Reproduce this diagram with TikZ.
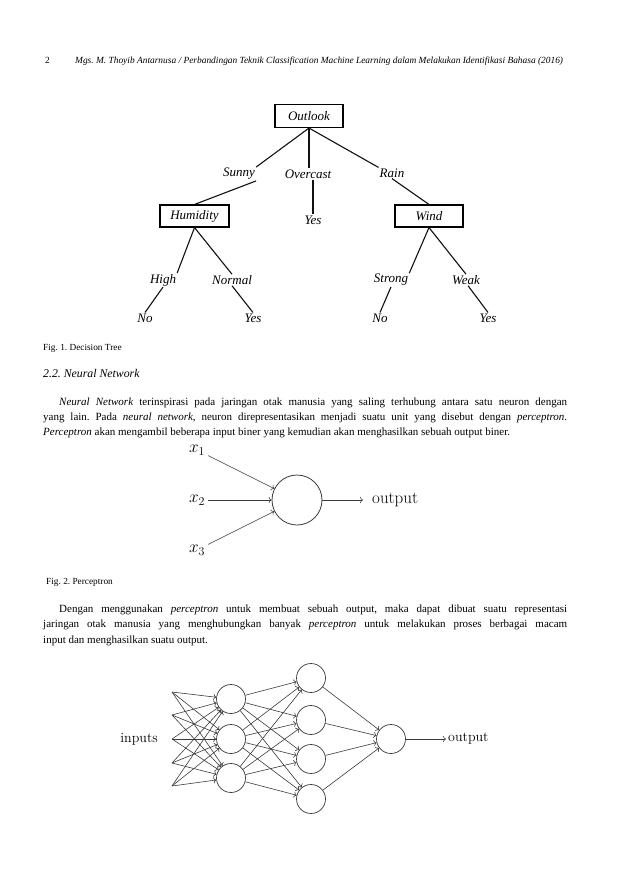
\documentclass[tikz,border=0pt]{standalone}
\usepackage{fontspec}
\usepackage{tikz}
\usetikzlibrary{arrows.meta, positioning}
\newfontfamily\tnr{Liberation Serif}
\definecolor{pageink}{HTML}{111111}
\definecolor{netgray}{HTML}{3C3C3C}

\begin{document}
\frenchspacing
\begin{tikzpicture}[
    x=1pt, y=-1pt,
    runhead/.style={anchor=base west,inner sep=0,font=\tnr\fontsize{9.4}{11}\selectfont},
    figcap/.style={anchor=base west,inner sep=0,font=\tnr\fontsize{9.3}{11}\selectfont},
    sechead/.style={anchor=base west,inner sep=0,font=\tnr\itshape\fontsize{11.8}{13}\selectfont},
    bodyline/.style={anchor=base west,inner sep=0,font=\tnr\fontsize{11}{13}\selectfont},
    treebox/.style={draw,line width=1.1pt,minimum width=68pt,minimum height=23pt,inner sep=0,font=\tnr\itshape\fontsize{13}{15}\selectfont},
    treelabel/.style={inner sep=1pt,font=\tnr\itshape\fontsize{13}{15}\selectfont},
    branch/.style={line width=1.1pt,pageink},
    cmlabel/.style={inner sep=3pt,font=\fontsize{17}{20}\selectfont},
    nnlabel/.style={inner sep=2pt,font=\fontsize{14}{16}\selectfont},
    neuron/.style={circle,draw=netgray,line width=0.8pt,minimum size=50pt,inner sep=0},
    unit/.style={circle,draw=netgray,line width=0.7pt,minimum size=29pt,inner sep=0},
    syn/.style={->,line width=0.6pt,netgray},
  ]
    \fill[white] (0,0) rectangle (638,873);
    \useasboundingbox (0,0) rectangle (638,873);

    % running head
    \node[runhead] (pageno) at (45,63) {2};
    \node[runhead] (runtitle) at (75,63) {\itshape Mgs. M. Thoyib Antarnusa / Perbandingan Teknik Classification Machine Learning dalam Melakukan Identifikasi Bahasa (2016)};

    % Fig. 1: decision tree
    \node[treebox] (outlook) at (309,116) {Outlook};
    \node[treelabel] (sunny) at (239,174) {Sunny};
    \node[treelabel] (overcast) at (308,174) {Overcast};
    \node[treelabel] (rain) at (392,173) {Rain};
    \node[treebox, minimum width=69pt, minimum height=22pt] (humidity) at (194.5,216) {Humidity};
    \node[treelabel] (yesov) at (313,220) {Yes};
    \node[treebox, minimum height=22pt] (wind) at (429,216) {Wind};
    \node[treelabel] (high) at (163,280) {High};
    \node[treelabel] (normal) at (232,280) {Normal};
    \node[treelabel] (strong) at (391,280) {Strong};
    \node[treelabel] (weak) at (466,280) {Weak};
    \node[treelabel] (nohigh) at (145,318) {No};
    \node[treelabel] (yesnormal) at (253,318) {Yes};
    \node[treelabel] (nostrong) at (380,318) {No};
    \node[treelabel] (yesweak) at (488,318) {Yes};

    \draw[branch] (outlook.south) -- (sunny.north east);
    \draw[branch] (outlook.south) -- (outlook.south |- overcast.north);
    \draw[branch] (outlook.south) -- (rain.north west);
    \draw[branch] (sunny.south east) -- (humidity.north);
    \draw[branch] (yesov.north |- overcast.south) -- (yesov.north);
    \draw[branch] (rain.south) -- (wind.north);
    \draw[branch] (humidity.south) -- (high.north east);
    \draw[branch] (humidity.south) -- (normal.north);
    \draw[branch] (wind.south) -- (strong.north east);
    \draw[branch] (wind.south) -- (weak.north);
    \draw[branch] (high.south) -- (nohigh.north);
    \draw[branch] (normal.south) -- (yesnormal.north);
    \draw[branch] (strong.south) -- (nostrong.north);
    \draw[branch] (weak.-70) -- (yesweak.north);

    \node[figcap] (cap1) at (43,350) {Fig. 1. Decision Tree};
    \node[sechead] (sec22) at (43,377) {2.2. Neural Network};

    \node[bodyline] (p1a) at (59,405) {\makebox[508pt][s]{\textit{Neural Network} terinspirasi pada jaringan otak manusia yang saling terhubung antara satu neuron dengan}};
    \node[bodyline] (p1b) at (43,420) {\makebox[524pt][s]{yang lain. Pada \textit{neural network}, neuron direpresentasikan menjadi suatu unit yang disebut dengan \textit{perceptron}.}};
    \node[bodyline] (p1c) at (43,435) {\textit{Perceptron} akan mengambil beberapa input biner yang kemudian akan menghasilkan sebuah output biner.};

    % Fig. 2: perceptron
    \node[neuron] (perc) at (297,500) {};
    \node[cmlabel] (x1) at (197,450) {$x_1$};
    \node[cmlabel] (x2) at (197,500) {$x_2$};
    \node[cmlabel] (x3) at (197,550) {$x_3$};
    \node[cmlabel, anchor=west, inner sep=1pt] (pout) at (371,500) {output};
    \draw[syn] (x1) -- (perc);
    \draw[syn] (x2) -- (perc);
    \draw[syn] (x3) -- (perc);
    \draw[syn, shorten >=8pt] (perc) -- (pout);

    \node[figcap] (cap2) at (46,584) {Fig. 2. Perceptron};

    \node[bodyline] (p2a) at (59,612) {\makebox[508pt][s]{Dengan menggunakan \textit{perceptron} untuk membuat sebuah output, maka dapat dibuat suatu representasi}};
    \node[bodyline] (p2b) at (43,627.5) {\makebox[524pt][s]{jaringan otak manusia yang menghubungkan banyak \textit{perceptron} untuk melakukan proses berbagai macam}};
    \node[bodyline] (p2c) at (43,643) {input dan menghasilkan suatu output.};

    % multilayer network
    \foreach \y [count=\i] in {692,715,739,763,786}
      \coordinate (in\i) at (172,\y);
    \foreach \y [count=\i] in {699,739,778}
      \node[unit] (a\i) at (231,\y) {};
    \foreach \y [count=\i] in {678,720,759,799}
      \node[unit] (b\i) at (311,\y) {};
    \node[unit] (outunit) at (391,739) {};
    \node[nnlabel, anchor=east] (inputs) at (160,739) {inputs};
    \node[nnlabel, anchor=west] (nnout) at (446,739) {output};

    \foreach \i in {1,...,5}
      \foreach \j in {1,2,3}
        \draw[syn] (in\i) -- (a\j);
    \foreach \i in {1,2,3}
      \foreach \j in {1,...,4}
        \draw[syn] (a\i) -- (b\j);
    \foreach \j in {1,...,4}
      \draw[syn] (b\j) -- (outunit);
    \draw[syn] (outunit) -- (nnout);
  \end{tikzpicture}
\end{document}
